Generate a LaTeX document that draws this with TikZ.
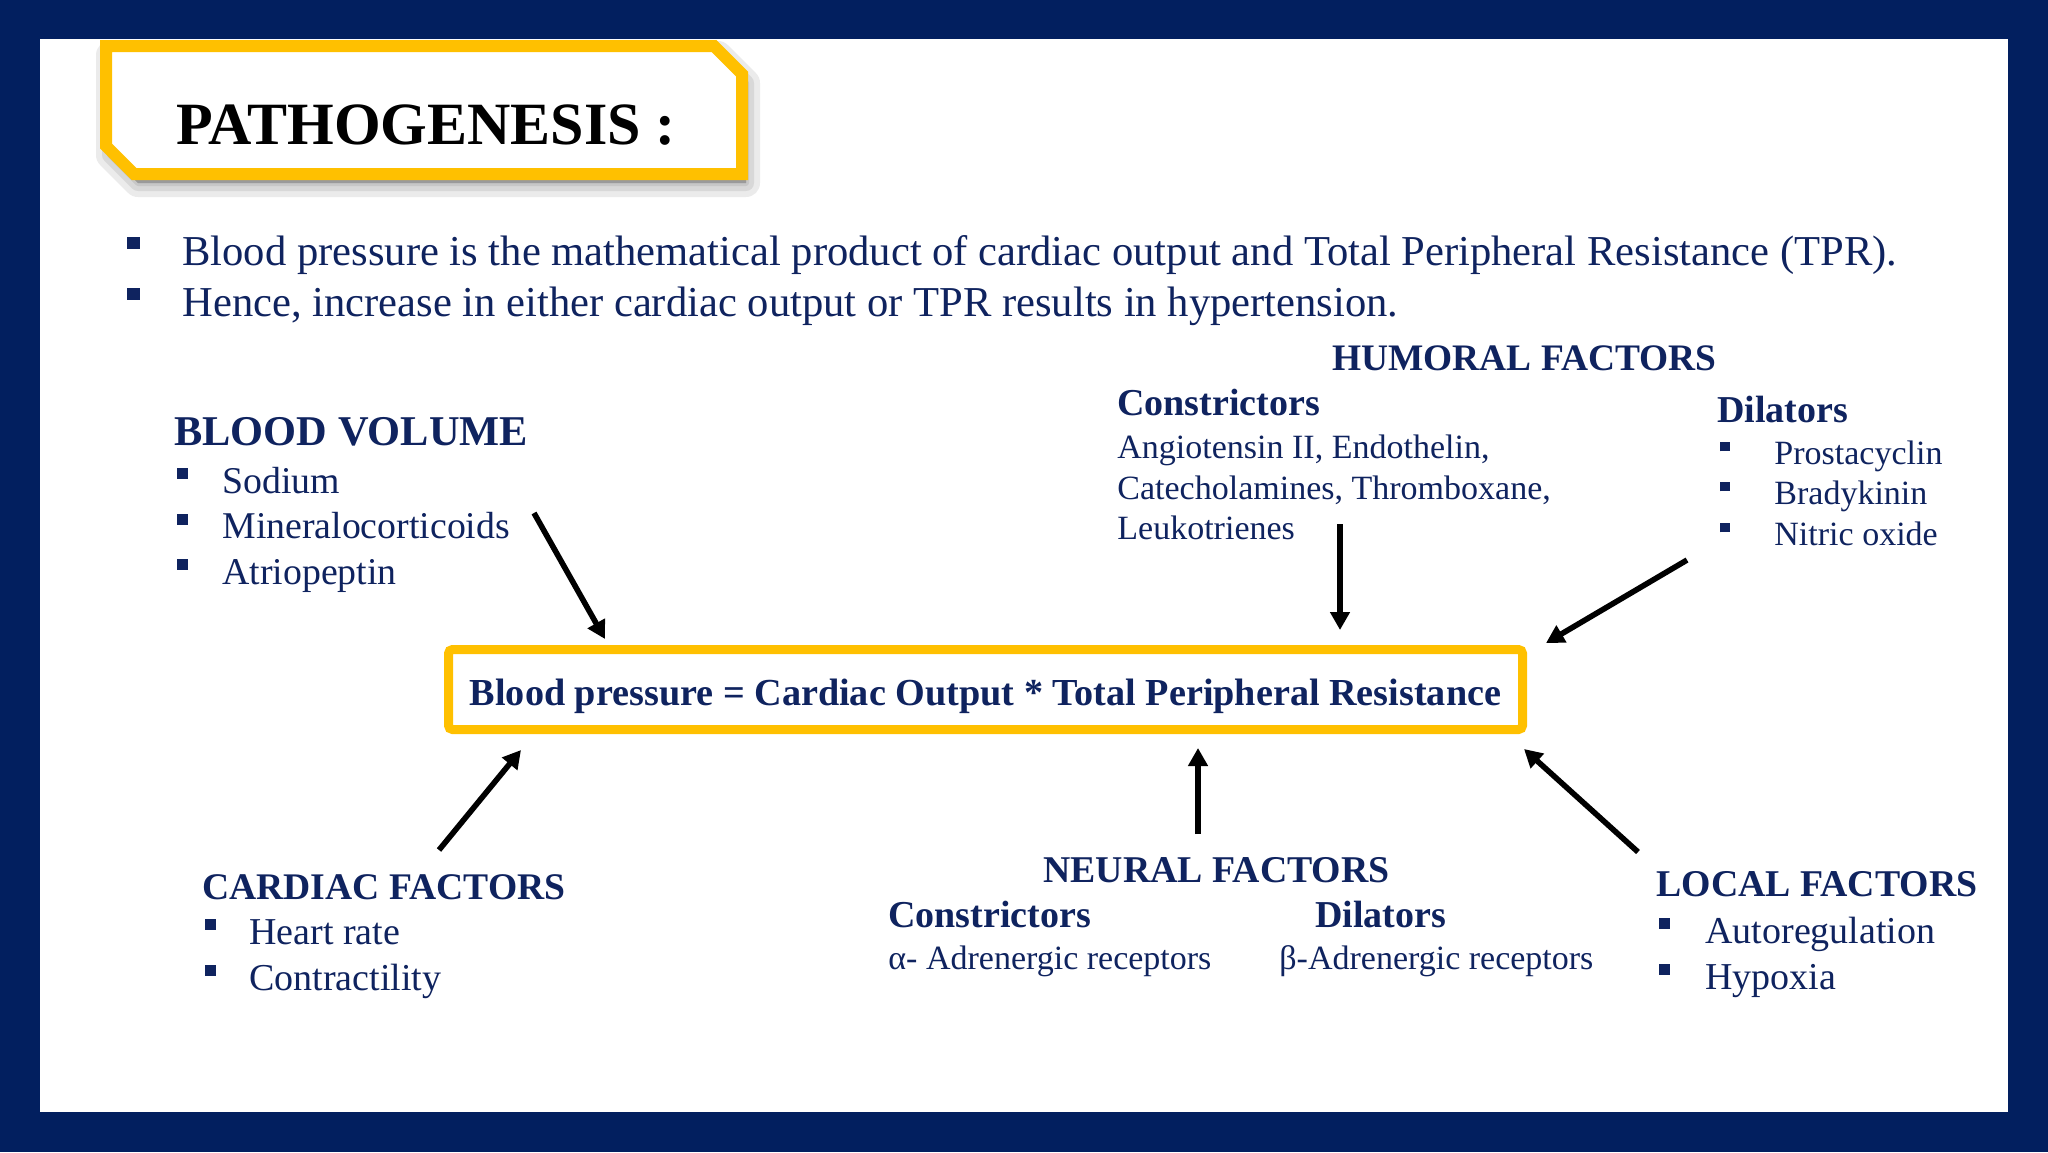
\documentclass[tikz,border=0pt]{standalone}
\usepackage{fontspec}
\setmainfont{Liberation Serif}
\usetikzlibrary{arrows.meta,positioning,calc}
\definecolor{frame}{HTML}{021F5F}
\definecolor{navy}{HTML}{0F235F}
\definecolor{gold}{HTML}{FFC000}
\newcommand{\sqb}{\raisebox{0.37em}{\rule{0.29em}{0.29em}}}
\newcommand{\itm}[2][22.5pt]{\makebox[#1][l]{\sqb}#2}
\tikzset{
  head/.style={anchor=base west,inner sep=0pt,text=navy,font=\fontsize{#1}{#1}\selectfont\bfseries},
  head/.default=19,
  body/.style={anchor=base west,inner sep=0pt,text=navy,font=\fontsize{#1}{#1}\selectfont},
  body/.default=19,
  eqbox/.style={rectangle,rounded corners=2pt,draw=gold,line width=4.5pt,fill=white,inner sep=0pt,
    minimum width=537pt,minimum height=40pt,text height=18pt,text depth=2.5pt,
    text=navy,font=\fontsize{19.1}{19.1}\selectfont\bfseries},
  arrow/.style={-{Triangle[length=9pt,width=9.5pt]},line width=2.8pt,black},
  shade/.style={black,opacity=0.08,line width=#1,line join=round}
}

\begin{document}
\begin{tikzpicture}[x=0.5pt,y=-0.5pt]
    % slide frame
    \fill[frame] (0,0) rectangle (2048,1152);
    \fill[white] (40,39) rectangle (2008,1112);
    % title banner
    \draw[shade=14pt,fill=black] (110,55) -- (718,55) -- (746,83) -- (746,183) -- (138,183) -- (110,155) -- cycle;
    \draw[shade=8pt,fill=black] (110,55) -- (718,55) -- (746,83) -- (746,183) -- (138,183) -- (110,155) -- cycle;
    \draw[shade=3pt,fill=black] (110,55) -- (718,55) -- (746,83) -- (746,183) -- (138,183) -- (110,155) -- cycle;
    \draw[gold,line width=6pt,fill=white] (106,46) -- (714,46) -- (742,74) -- (742,174) -- (134,174) -- (106,146) -- cycle;
    \node[anchor=base,inner sep=0pt,font=\fontsize{30}{30}\selectfont\bfseries] (title) at (426,144) {PATHOGENESIS :};

    \node[body=21.3] (bullet1) at (127,265) {\itm[27.5pt]{Blood pressure is the mathematical product of cardiac output and Total Peripheral Resistance (TPR).}};
    \node[body=21.3] (bullet2) at (127,316) {\itm[27.5pt]{Hence, increase in either cardiac output or TPR results in hypertension.}};

    % central relation
    \node[eqbox] (bp) at (985.5,689.5) {Blood pressure = Cardiac Output * Total Peripheral Resistance};

    % blood volume
    \node[head=21.2] (bvhead) at (174,445) {BLOOD VOLUME};
    \node[body=18.9] (bv1) at (177,493) {\itm{Sodium}};
    \node[body=18.9] (bv2) at (177,538.5) {\itm{Mineralocorticoids}};
    \node[body=18.9] (bv3) at (177,584) {\itm{Atriopeptin}};

    % humoral factors
    \node[head=18.7] (humhead) at (1332,370) {HUMORAL FACTORS};
    \node[head] (humcon) at (1117,415) {Constrictors};
    \node[body=17] (humc1) at (1117,458) {Angiotensin II, Endothelin,};
    \node[body=17] (humc2) at (1117,499) {Catecholamines, Thromboxane,};
    \node[body=17] (humc3) at (1117,539) {Leukotrienes};
    \node[head] (humdil) at (1717,422) {Dilators};
    \node[body=17] (humd1) at (1720,464) {\itm[27pt]{Prostacyclin}};
    \node[body=17] (humd2) at (1720,504) {\itm[27pt]{Bradykinin}};
    \node[body=17] (humd3) at (1720,545) {\itm[27pt]{Nitric oxide}};

    % cardiac factors
    \node[head=18.8] (cardhead) at (202,899) {CARDIAC FACTORS};
    \node[body] (card1) at (205,944) {\itm[22pt]{Heart rate}};
    \node[body] (card2) at (205,990) {\itm[22pt]{Contractility}};

    % neural factors
    \node[head=18.9] (neurhead) at (1043,882) {NEURAL FACTORS};
    \node[head] (neurcon) at (888,927) {Constrictors};
    \node[head] (neurdil) at (1315,927) {Dilators};
    \node[body=17] (neurc1) at (888,969) {α- Adrenergic receptors};
    \node[body=17] (neurd1) at (1279,969) {β-Adrenergic receptors};

    % local factors
    \node[head=18.9] (lochead) at (1656,896) {LOCAL FACTORS};
    \node[body] (loc1) at (1659,943) {\itm[23pt]{Autoregulation}};
    \node[body] (loc2) at (1659,989) {\itm[23pt]{Hypoxia}};

    % arrow ends
    \coordinate (bvA) at (534,513);   \coordinate (bvB) at (605,639);
    \coordinate (humA) at (1340,524); \coordinate (humB) at (1340,630);
    \coordinate (dilA) at (1687,560); \coordinate (dilB) at (1546,643);
    \coordinate (cardA) at (439,850); \coordinate (cardB) at (521,750);
    \coordinate (neurA) at (1198,834); \coordinate (neurB) at (1198,748);
    \coordinate (locA) at (1638,852); \coordinate (locB) at (1524,749);
    \draw[arrow] (bvA) -- (bvB);
    \draw[arrow] (humA) -- (humB);
    \draw[arrow] (dilA) -- (dilB);
    \draw[arrow] (cardA) -- (cardB);
    \draw[arrow] (neurA) -- (neurB);
    \draw[arrow] (locA) -- (locB);
  \end{tikzpicture}
\end{document}
